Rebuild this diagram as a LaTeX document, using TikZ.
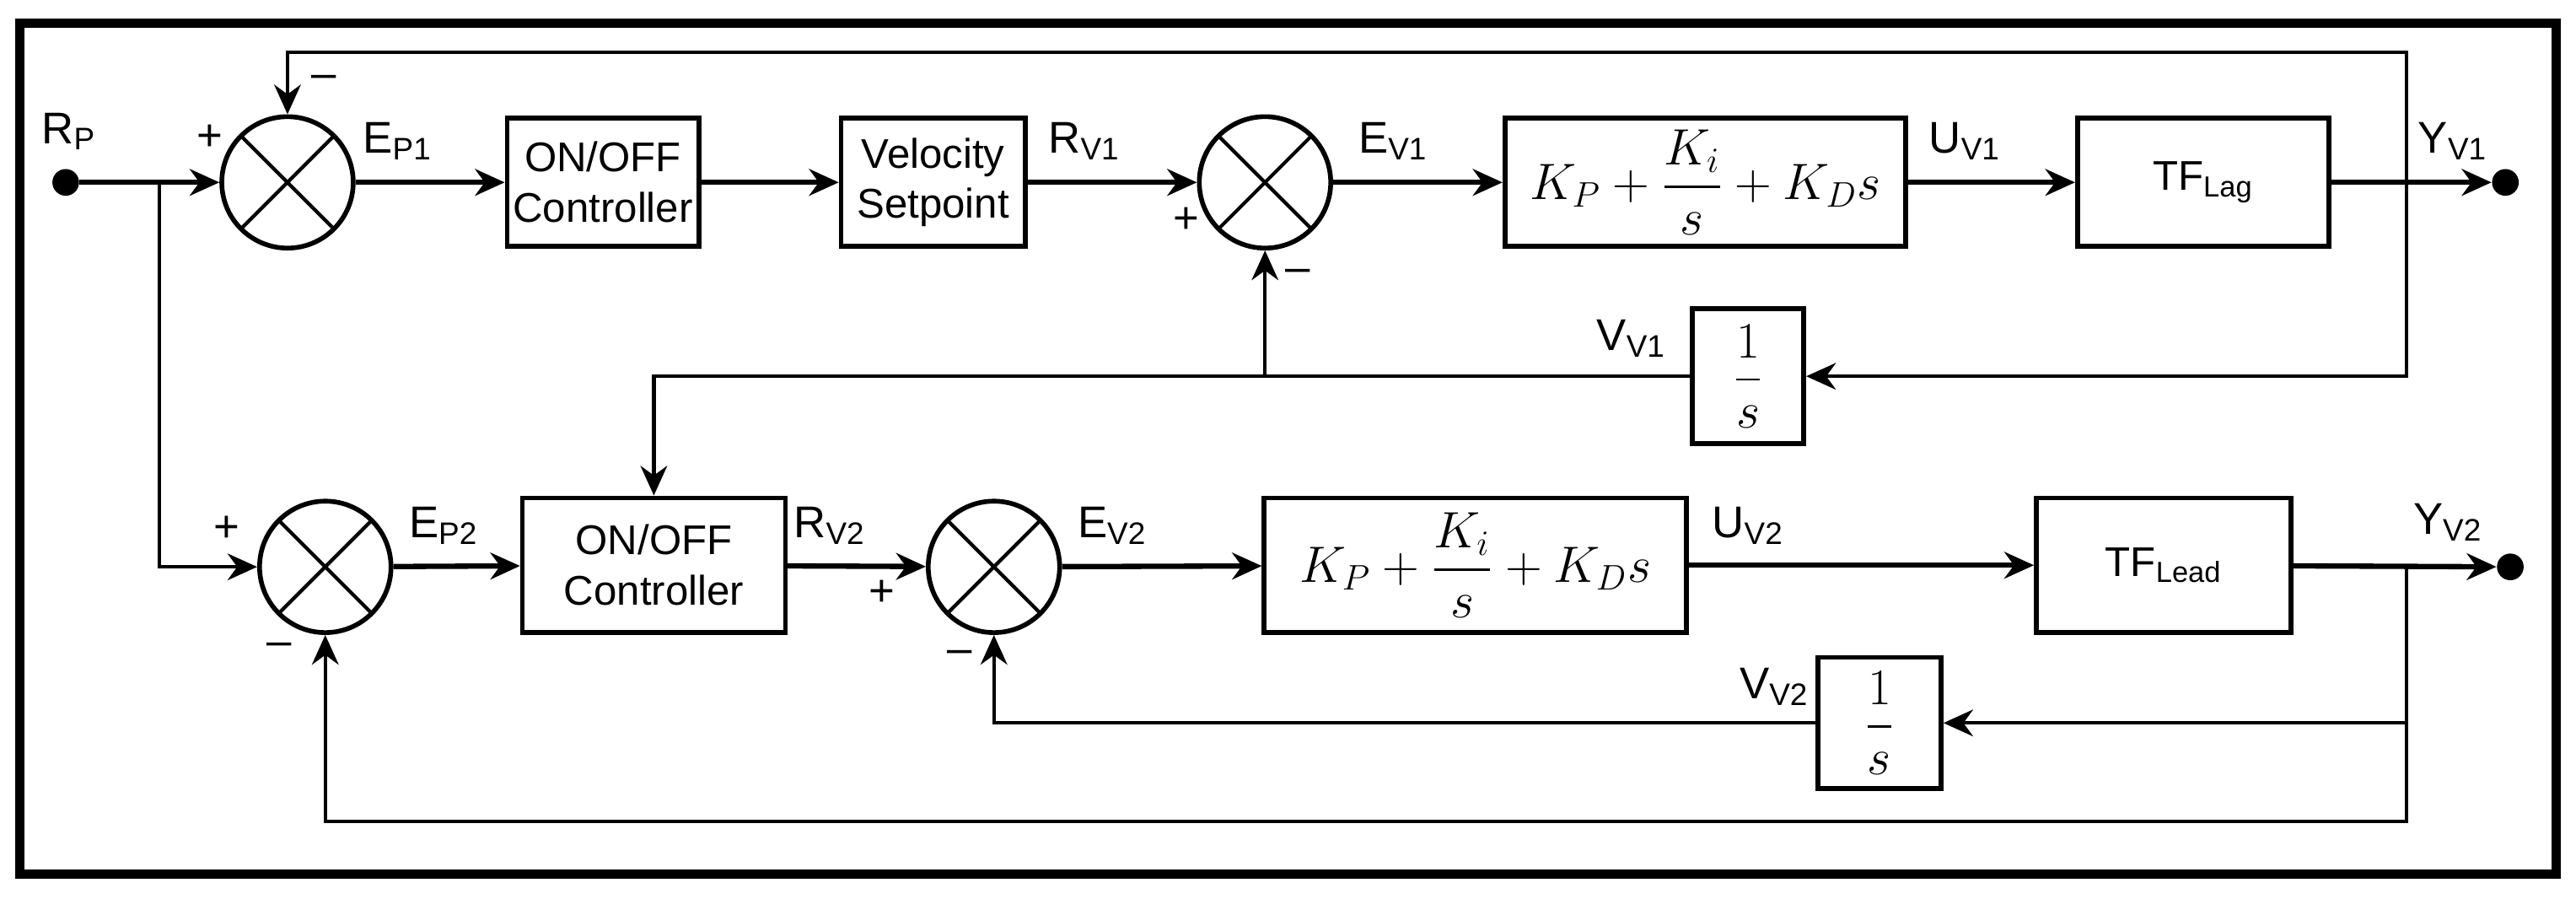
\documentclass[tikz,border=0pt]{standalone}
\usepackage{amsmath}
\usepackage{fontspec}
\setmainfont{Liberation Sans}
\usetikzlibrary{arrows.meta, shapes, positioning}
\tikzset{
  block/.style={rectangle, draw, line width=1.6pt, align=center, inner sep=2pt},
  sum/.style={circle, draw, line width=1.6pt, minimum size=80*0.01948cm, path picture={
      \draw[line width=1.2pt] (path picture bounding box.north west) -- (path picture bounding box.south east)
        (path picture bounding box.north east) -- (path picture bounding box.south west);}},
  sig/.style={line width=1.8pt, -{Stealth[length=10pt,width=9pt]}},
  fb/.style={line width=1.2pt, -{Stealth[length=10pt,width=9pt]}},
  lbl/.style={font=\fontsize{15}{17}\selectfont},
  dot/.style={circle, fill, inner sep=0pt, minimum size=9pt}
}
\begin{document}
\begin{tikzpicture}[x=0.01948cm, y=-0.01948cm, font=\fontsize{14}{17}\selectfont]
  \useasboundingbox (0,0) rectangle (1568,547);
  % Frame
  \draw[line width=3pt] (12,14) rectangle (1556,532);

  % Top row
  \node[dot] (rp) at (40,111) {};
  \node[sum] (s1) at (175,111) {};
  \node[block, minimum width=111*0.01948cm, minimum height=78*0.01948cm] (onoff1) at (367,111) {ON/OFF\\Controller};
  \node[block, minimum width=112*0.01948cm, minimum height=78*0.01948cm] (vset) at (568,111) {Velocity\\Setpoint};
  \node[sum] (s2) at (770,111) {};
  \node[block, minimum width=244*0.01948cm, minimum height=78*0.01948cm, font=\fontsize{17}{19}\selectfont] (pid1) at (1038,111) {$K_P+\dfrac{K_i}{s}+K_Ds$};
  \node[block, minimum width=153*0.01948cm, minimum height=78*0.01948cm] (lag) at (1341,111) {TF\textsubscript{Lag}};
  \node[dot] (y1) at (1525,111) {};
  \coordinate (b1) at (1465,111);
  \node[block, minimum width=68*0.01948cm, minimum height=82*0.01948cm, font=\fontsize{17}{19}\selectfont] (int1) at (1064,229) {$\dfrac{1}{s}$};

  % Bottom row
  \node[sum] (s3) at (198,345) {};
  \node[block, minimum width=160*0.01948cm, minimum height=82*0.01948cm] (onoff2) at (398,344) {ON/OFF\\Controller};
  \node[sum] (s4) at (605,345) {};
  \node[block, minimum width=257*0.01948cm, minimum height=82*0.01948cm, font=\fontsize{17}{19}\selectfont] (pid2) at (898,344) {$K_P+\dfrac{K_i}{s}+K_Ds$};
  \node[block, minimum width=155*0.01948cm, minimum height=82*0.01948cm] (lead) at (1317,344) {TF\textsubscript{Lead}};
  \node[dot] (y2) at (1528,345) {};
  \coordinate (b2) at (1465,345);
  \node[block, minimum width=75*0.01948cm, minimum height=80*0.01948cm, font=\fontsize{17}{19}\selectfont] (int2) at (1144,440) {$\dfrac{1}{s}$};

  % Forward paths
  \draw[sig] (rp) -- (s1);
  \draw[sig] (s1) -- (onoff1);
  \draw[sig] (onoff1) -- (vset);
  \draw[sig] (vset) -- (s2);
  \draw[sig] (s2) -- (pid1);
  \draw[sig] (pid1) -- (lag);
  \draw[sig] (lag) -- (y1);
  \draw[sig] (s3) -- (onoff2);
  \draw[sig] (onoff2) -- (s4);
  \draw[sig] (s4) -- (pid2);
  \draw[sig] (pid2) -- (lead);
  \draw[sig] (lead) -- (y2);
  \draw[fb] (97,111) |- (s3);

  % Feedback paths
  \draw[fb] (b1) |- (175,32) -- (s1);
  \draw[fb] (b1) |- (int1);
  \draw[fb] (int1) -| (onoff2);
  \draw[fb] (770,229) -- (s2);
  \draw[fb] (b2) |- (int2);
  \draw[fb] (int2) -| (s4);
  \draw[fb] (b2) |- (198,500) -- (s3);

  % Labels
  \node[lbl] at (42,80) {R\textsubscript{P}};
  \node[lbl] at (128,84) {+};
  \node[lbl] at (197,50) {--};
  \node[lbl] at (242,86) {E\textsubscript{P1}};
  \node[lbl] at (660,86) {R\textsubscript{V1}};
  \node[lbl] at (722,134) {+};
  \node[lbl] at (790,168) {--};
  \node[lbl] at (848,86) {E\textsubscript{V1}};
  \node[lbl] at (1196,86) {U\textsubscript{V1}};
  \node[lbl] at (1493,86) {Y\textsubscript{V1}};
  \node[lbl] at (993,206) {V\textsubscript{V1}};
  \node[lbl] at (138,322) {+};
  \node[lbl] at (170,395) {--};
  \node[lbl] at (270,320) {E\textsubscript{P2}};
  \node[lbl] at (505,320) {R\textsubscript{V2}};
  \node[lbl] at (537,361) {+};
  \node[lbl] at (584,400) {--};
  \node[lbl] at (677,320) {E\textsubscript{V2}};
  \node[lbl] at (1064,320) {U\textsubscript{V2}};
  \node[lbl] at (1490,318) {Y\textsubscript{V2}};
  \node[lbl] at (1080,418) {V\textsubscript{V2}};
\end{tikzpicture}
\end{document}
